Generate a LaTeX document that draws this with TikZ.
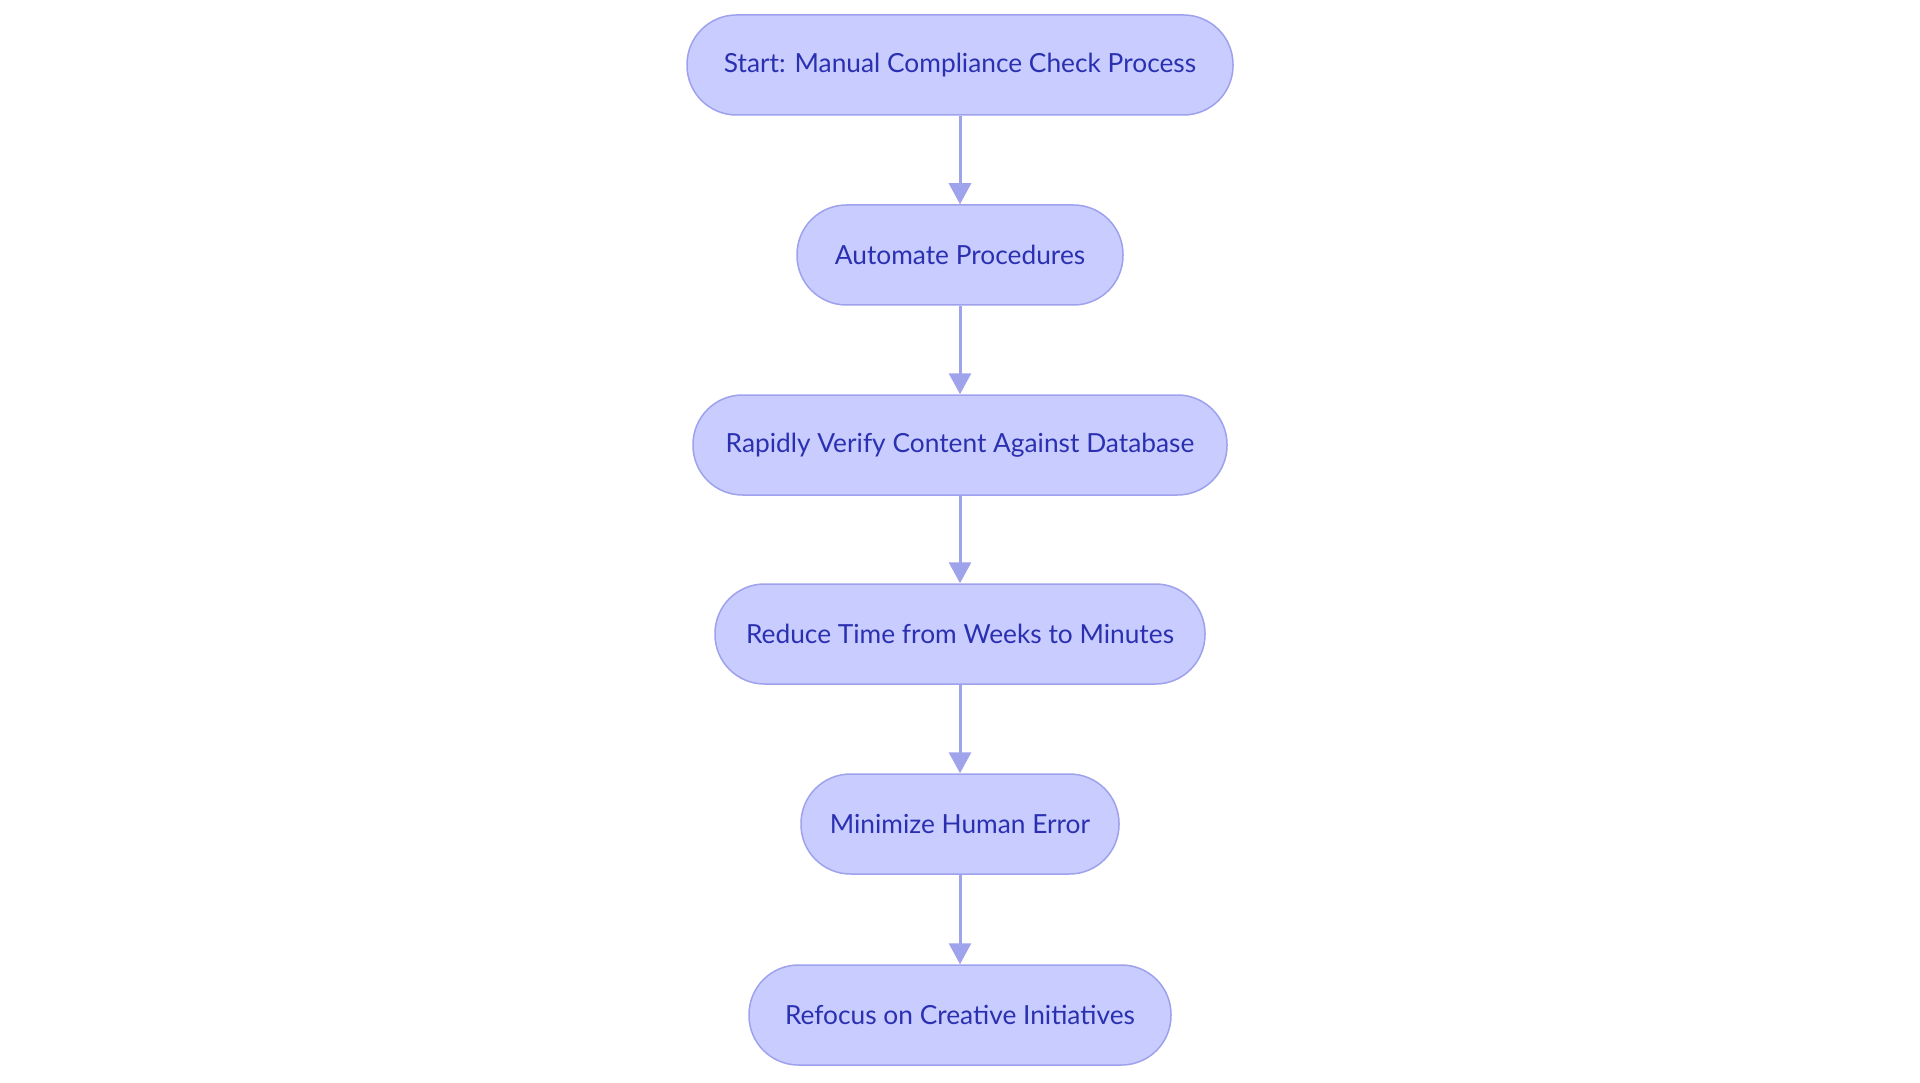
\documentclass[tikz,border=0pt]{standalone}
\usepackage{fontspec}
\setmainfont{Lato}
\usetikzlibrary{arrows.meta}
\definecolor{boxfill}{HTML}{C8CCFF}
\definecolor{boxline}{HTML}{9EA2EC}
\definecolor{boxtext}{HTML}{2B30B0}
\definecolor{arrowc}{HTML}{9EA3EB}
\begin{document}
\begin{tikzpicture}[x=1pt,y=-1pt,
  stepbox/.style={draw=boxline, line width=1.5pt, fill=boxfill,
    rounded corners=49.5pt, minimum height=100pt, inner sep=0pt},
  lbl/.style={text=boxtext, inner sep=0pt, font=\fontsize{26.3}{30}\selectfont},
  flow/.style={draw=arrowc, line width=3pt, -{Triangle[length=21pt,width=22pt]}}]
\useasboundingbox (0,0) rectangle (1920,1083);
\node[stepbox, minimum width=546pt] (n1) at (960,65) {};
\node[stepbox, minimum width=326pt] (n2) at (960,255) {};
\node[stepbox, minimum width=534pt] (n3) at (960,445) {};
\node[stepbox, minimum width=490pt] (n4) at (960,634) {};
\node[stepbox, minimum width=318pt] (n5) at (960,824) {};
\node[stepbox, minimum width=422pt] (n6) at (960,1015) {};
\node[lbl] (t1) at (960,65) {Start: Manual Compliance Check Process};
\node[lbl] (t2) at (960,255) {Automate Procedures};
\node[lbl] (t3) at (960,445) {Rapidly Verify Content Against Database};
\node[lbl] (t4) at (960,634) {Reduce Time from Weeks to Minutes};
\node[lbl] (t5) at (960,824) {Minimize Human Error};
\node[lbl] (t6) at (960,1015) {Refocus on Creative Initiatives};
\draw[flow] (n1) -- (n2);
\draw[flow] (n2) -- (n3);
\draw[flow] (n3) -- (n4);
\draw[flow] (n4) -- (n5);
\draw[flow] (n5) -- (n6);
\end{tikzpicture}
\end{document}
